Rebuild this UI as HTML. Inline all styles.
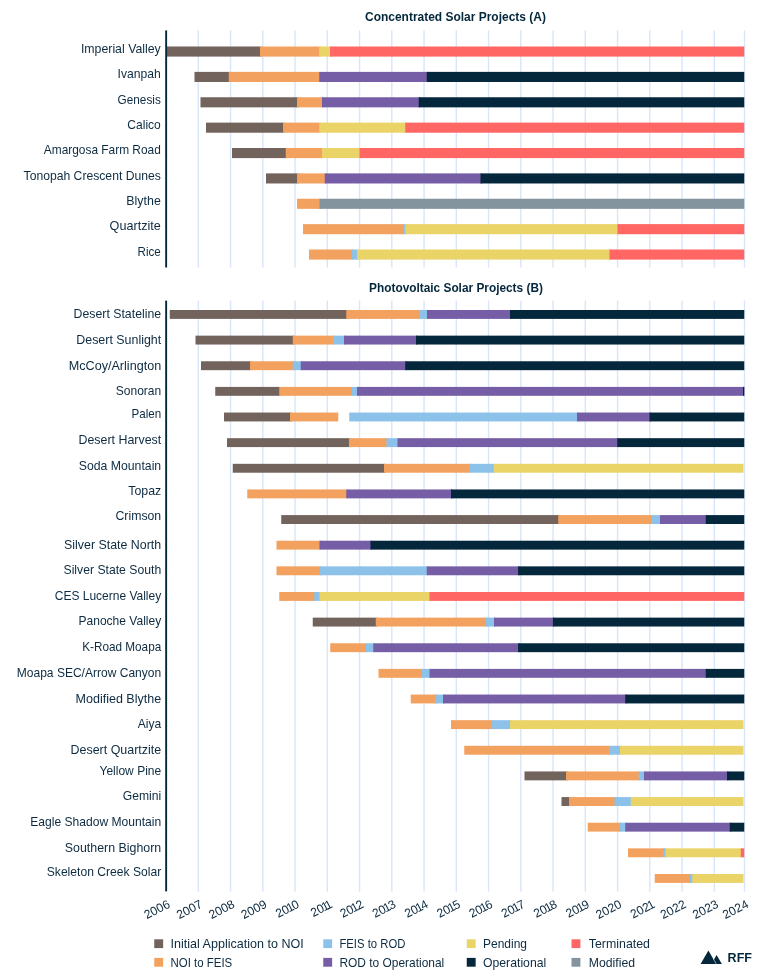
<!DOCTYPE html>
<html lang="en"><head><meta charset="utf-8"><title>Solar Projects Timeline</title>
<style>html,body{margin:0;padding:0;background:#fff}body{width:760px;height:974px;overflow:hidden}svg{display:block}text{font-family:"Liberation Sans",Arial,Helvetica,sans-serif}.l{font-size:12.2px;fill:#0d2b41;text-anchor:end}.t{font-size:12.3px;font-weight:bold;fill:#04273c}.y{font-size:12.2px;fill:#0d2b41;text-anchor:end}.g{font-size:12.2px;fill:#0d2b41}</style></head><body>
<svg width="760" height="974" viewBox="0 0 760 974">
<rect width="760" height="974" fill="#fff"/>
<rect x="197.60" y="30.40" width="1.4" height="237.10" fill="#d8e6f9"/>
<rect x="229.85" y="30.40" width="1.4" height="237.10" fill="#d8e6f9"/>
<rect x="262.10" y="30.40" width="1.4" height="237.10" fill="#d8e6f9"/>
<rect x="294.35" y="30.40" width="1.4" height="237.10" fill="#d8e6f9"/>
<rect x="326.60" y="30.40" width="1.4" height="237.10" fill="#d8e6f9"/>
<rect x="358.85" y="30.40" width="1.4" height="237.10" fill="#d8e6f9"/>
<rect x="391.10" y="30.40" width="1.4" height="237.10" fill="#d8e6f9"/>
<rect x="423.35" y="30.40" width="1.4" height="237.10" fill="#d8e6f9"/>
<rect x="455.60" y="30.40" width="1.4" height="237.10" fill="#d8e6f9"/>
<rect x="487.85" y="30.40" width="1.4" height="237.10" fill="#d8e6f9"/>
<rect x="520.10" y="30.40" width="1.4" height="237.10" fill="#d8e6f9"/>
<rect x="552.35" y="30.40" width="1.4" height="237.10" fill="#d8e6f9"/>
<rect x="584.60" y="30.40" width="1.4" height="237.10" fill="#d8e6f9"/>
<rect x="616.85" y="30.40" width="1.4" height="237.10" fill="#d8e6f9"/>
<rect x="649.10" y="30.40" width="1.4" height="237.10" fill="#d8e6f9"/>
<rect x="681.35" y="30.40" width="1.4" height="237.10" fill="#d8e6f9"/>
<rect x="713.60" y="30.40" width="1.4" height="237.10" fill="#d8e6f9"/>
<rect x="743.80" y="30.40" width="1.4" height="237.10" fill="#d8e6f9"/>
<rect x="197.60" y="300.60" width="1.4" height="591.00" fill="#d8e6f9"/>
<rect x="229.85" y="300.60" width="1.4" height="591.00" fill="#d8e6f9"/>
<rect x="262.10" y="300.60" width="1.4" height="591.00" fill="#d8e6f9"/>
<rect x="294.35" y="300.60" width="1.4" height="591.00" fill="#d8e6f9"/>
<rect x="326.60" y="300.60" width="1.4" height="591.00" fill="#d8e6f9"/>
<rect x="358.85" y="300.60" width="1.4" height="591.00" fill="#d8e6f9"/>
<rect x="391.10" y="300.60" width="1.4" height="591.00" fill="#d8e6f9"/>
<rect x="423.35" y="300.60" width="1.4" height="591.00" fill="#d8e6f9"/>
<rect x="455.60" y="300.60" width="1.4" height="591.00" fill="#d8e6f9"/>
<rect x="487.85" y="300.60" width="1.4" height="591.00" fill="#d8e6f9"/>
<rect x="520.10" y="300.60" width="1.4" height="591.00" fill="#d8e6f9"/>
<rect x="552.35" y="300.60" width="1.4" height="591.00" fill="#d8e6f9"/>
<rect x="584.60" y="300.60" width="1.4" height="591.00" fill="#d8e6f9"/>
<rect x="616.85" y="300.60" width="1.4" height="591.00" fill="#d8e6f9"/>
<rect x="649.10" y="300.60" width="1.4" height="591.00" fill="#d8e6f9"/>
<rect x="681.35" y="300.60" width="1.4" height="591.00" fill="#d8e6f9"/>
<rect x="713.60" y="300.60" width="1.4" height="591.00" fill="#d8e6f9"/>
<rect x="743.80" y="300.60" width="1.4" height="591.00" fill="#d8e6f9"/>
<rect x="167.00" y="46.50" width="94.50" height="10.1" fill="#73635d"/>
<rect x="260.00" y="46.50" width="60.75" height="10.1" fill="#f3a15f"/>
<rect x="319.25" y="46.50" width="12.25" height="10.1" fill="#ead367"/>
<rect x="330.00" y="46.50" width="414.25" height="10.1" fill="#ff6664"/>
<rect x="194.50" y="71.88" width="35.75" height="10.1" fill="#73635d"/>
<rect x="228.75" y="71.88" width="92.00" height="10.1" fill="#f3a15f"/>
<rect x="319.25" y="71.88" width="109.00" height="10.1" fill="#755ea6"/>
<rect x="426.75" y="71.88" width="317.50" height="10.1" fill="#04273c"/>
<rect x="200.50" y="97.25" width="98.00" height="10.1" fill="#73635d"/>
<rect x="297.00" y="97.25" width="26.50" height="10.1" fill="#f3a15f"/>
<rect x="322.00" y="97.25" width="98.25" height="10.1" fill="#755ea6"/>
<rect x="418.75" y="97.25" width="325.50" height="10.1" fill="#04273c"/>
<rect x="206.00" y="122.62" width="78.50" height="10.1" fill="#73635d"/>
<rect x="283.00" y="122.62" width="37.75" height="10.1" fill="#f3a15f"/>
<rect x="319.25" y="122.62" width="87.50" height="10.1" fill="#ead367"/>
<rect x="405.25" y="122.62" width="339.00" height="10.1" fill="#ff6664"/>
<rect x="232.00" y="148.00" width="55.25" height="10.1" fill="#73635d"/>
<rect x="285.75" y="148.00" width="37.75" height="10.1" fill="#f3a15f"/>
<rect x="322.00" y="148.00" width="39.00" height="10.1" fill="#ead367"/>
<rect x="359.50" y="148.00" width="384.75" height="10.1" fill="#ff6664"/>
<rect x="266.00" y="173.38" width="32.50" height="10.1" fill="#73635d"/>
<rect x="297.00" y="173.38" width="29.25" height="10.1" fill="#f3a15f"/>
<rect x="324.75" y="173.38" width="157.25" height="10.1" fill="#755ea6"/>
<rect x="480.50" y="173.38" width="263.75" height="10.1" fill="#04273c"/>
<rect x="297.00" y="198.75" width="24.00" height="10.1" fill="#f3a15f"/>
<rect x="319.50" y="198.75" width="424.75" height="10.1" fill="#84949e"/>
<rect x="303.00" y="224.12" width="101.50" height="10.1" fill="#f3a15f"/>
<rect x="403.00" y="224.12" width="3.75" height="10.1" fill="#8cc2ea"/>
<rect x="405.25" y="224.12" width="213.75" height="10.1" fill="#ead367"/>
<rect x="617.50" y="224.12" width="126.75" height="10.1" fill="#ff6664"/>
<rect x="309.00" y="249.50" width="44.00" height="10.1" fill="#f3a15f"/>
<rect x="351.50" y="249.50" width="7.00" height="10.1" fill="#8cc2ea"/>
<rect x="357.00" y="249.50" width="254.00" height="10.1" fill="#ead367"/>
<rect x="609.50" y="249.50" width="134.75" height="10.1" fill="#ff6664"/>
<rect x="169.75" y="310.00" width="178.00" height="8.9" fill="#73635d"/>
<rect x="346.25" y="310.00" width="74.25" height="8.9" fill="#f3a15f"/>
<rect x="419.00" y="310.00" width="9.50" height="8.9" fill="#8cc2ea"/>
<rect x="427.00" y="310.00" width="84.50" height="8.9" fill="#755ea6"/>
<rect x="510.00" y="310.00" width="234.25" height="8.9" fill="#04273c"/>
<rect x="195.50" y="335.64" width="98.75" height="8.9" fill="#73635d"/>
<rect x="292.75" y="335.64" width="41.75" height="8.9" fill="#f3a15f"/>
<rect x="333.00" y="335.64" width="12.50" height="8.9" fill="#8cc2ea"/>
<rect x="344.00" y="335.64" width="73.50" height="8.9" fill="#755ea6"/>
<rect x="416.00" y="335.64" width="328.25" height="8.9" fill="#04273c"/>
<rect x="201.00" y="361.27" width="50.50" height="8.9" fill="#73635d"/>
<rect x="250.00" y="361.27" width="44.25" height="8.9" fill="#f3a15f"/>
<rect x="292.75" y="361.27" width="9.50" height="8.9" fill="#8cc2ea"/>
<rect x="300.75" y="361.27" width="106.00" height="8.9" fill="#755ea6"/>
<rect x="405.25" y="361.27" width="339.00" height="8.9" fill="#04273c"/>
<rect x="215.25" y="386.91" width="65.50" height="8.9" fill="#73635d"/>
<rect x="279.25" y="386.91" width="74.00" height="8.9" fill="#f3a15f"/>
<rect x="351.75" y="386.91" width="6.75" height="8.9" fill="#8cc2ea"/>
<rect x="357.00" y="386.91" width="387.25" height="8.9" fill="#755ea6"/>
<rect x="743.00" y="386.91" width="1.25" height="8.9" fill="#04273c"/>
<rect x="224.00" y="412.54" width="67.50" height="8.9" fill="#73635d"/>
<rect x="290.00" y="412.54" width="48.25" height="8.9" fill="#f3a15f"/>
<rect x="349.25" y="412.54" width="229.25" height="8.9" fill="#8cc2ea"/>
<rect x="577.00" y="412.54" width="74.00" height="8.9" fill="#755ea6"/>
<rect x="649.50" y="412.54" width="94.75" height="8.9" fill="#04273c"/>
<rect x="227.00" y="438.18" width="123.50" height="8.9" fill="#73635d"/>
<rect x="349.00" y="438.18" width="39.00" height="8.9" fill="#f3a15f"/>
<rect x="386.50" y="438.18" width="12.50" height="8.9" fill="#8cc2ea"/>
<rect x="397.50" y="438.18" width="221.25" height="8.9" fill="#755ea6"/>
<rect x="617.25" y="438.18" width="127.00" height="8.9" fill="#04273c"/>
<rect x="232.75" y="463.82" width="152.75" height="8.9" fill="#73635d"/>
<rect x="384.00" y="463.82" width="87.25" height="8.9" fill="#f3a15f"/>
<rect x="469.75" y="463.82" width="25.50" height="8.9" fill="#8cc2ea"/>
<rect x="493.75" y="463.82" width="249.75" height="8.9" fill="#ead367"/>
<rect x="247.25" y="489.45" width="100.50" height="8.9" fill="#f3a15f"/>
<rect x="346.25" y="489.45" width="106.25" height="8.9" fill="#755ea6"/>
<rect x="451.00" y="489.45" width="293.25" height="8.9" fill="#04273c"/>
<rect x="281.25" y="515.09" width="278.45" height="8.9" fill="#73635d"/>
<rect x="558.20" y="515.09" width="95.30" height="8.9" fill="#f3a15f"/>
<rect x="652.00" y="515.09" width="9.50" height="8.9" fill="#8cc2ea"/>
<rect x="660.00" y="515.09" width="47.25" height="8.9" fill="#755ea6"/>
<rect x="705.75" y="515.09" width="38.50" height="8.9" fill="#04273c"/>
<rect x="276.50" y="540.72" width="44.50" height="8.9" fill="#f3a15f"/>
<rect x="319.50" y="540.72" width="52.50" height="8.9" fill="#755ea6"/>
<rect x="370.50" y="540.72" width="373.75" height="8.9" fill="#04273c"/>
<rect x="276.50" y="566.36" width="44.50" height="8.9" fill="#f3a15f"/>
<rect x="319.50" y="566.36" width="108.75" height="8.9" fill="#8cc2ea"/>
<rect x="426.75" y="566.36" width="92.85" height="8.9" fill="#755ea6"/>
<rect x="518.10" y="566.36" width="226.15" height="8.9" fill="#04273c"/>
<rect x="279.25" y="592.00" width="36.50" height="8.9" fill="#f3a15f"/>
<rect x="314.25" y="592.00" width="6.75" height="8.9" fill="#8cc2ea"/>
<rect x="319.50" y="592.00" width="111.50" height="8.9" fill="#ead367"/>
<rect x="429.50" y="592.00" width="314.75" height="8.9" fill="#ff6664"/>
<rect x="312.75" y="617.63" width="64.50" height="8.9" fill="#73635d"/>
<rect x="375.75" y="617.63" width="111.50" height="8.9" fill="#f3a15f"/>
<rect x="485.75" y="617.63" width="9.75" height="8.9" fill="#8cc2ea"/>
<rect x="494.00" y="617.63" width="60.40" height="8.9" fill="#755ea6"/>
<rect x="552.90" y="617.63" width="191.35" height="8.9" fill="#04273c"/>
<rect x="330.25" y="643.27" width="36.50" height="8.9" fill="#f3a15f"/>
<rect x="365.25" y="643.27" width="9.50" height="8.9" fill="#8cc2ea"/>
<rect x="373.25" y="643.27" width="146.35" height="8.9" fill="#755ea6"/>
<rect x="518.10" y="643.27" width="226.15" height="8.9" fill="#04273c"/>
<rect x="378.50" y="668.90" width="44.50" height="8.9" fill="#f3a15f"/>
<rect x="421.50" y="668.90" width="9.50" height="8.9" fill="#8cc2ea"/>
<rect x="429.50" y="668.90" width="277.75" height="8.9" fill="#755ea6"/>
<rect x="705.75" y="668.90" width="38.50" height="8.9" fill="#04273c"/>
<rect x="410.75" y="694.54" width="25.75" height="8.9" fill="#f3a15f"/>
<rect x="435.00" y="694.54" width="9.50" height="8.9" fill="#8cc2ea"/>
<rect x="443.00" y="694.54" width="183.75" height="8.9" fill="#755ea6"/>
<rect x="625.25" y="694.54" width="119.00" height="8.9" fill="#04273c"/>
<rect x="451.00" y="720.18" width="41.75" height="8.9" fill="#f3a15f"/>
<rect x="491.25" y="720.18" width="20.25" height="8.9" fill="#8cc2ea"/>
<rect x="510.00" y="720.18" width="233.50" height="8.9" fill="#ead367"/>
<rect x="464.25" y="745.81" width="146.50" height="8.9" fill="#f3a15f"/>
<rect x="609.25" y="745.81" width="12.25" height="8.9" fill="#8cc2ea"/>
<rect x="620.00" y="745.81" width="123.50" height="8.9" fill="#ead367"/>
<rect x="524.50" y="771.45" width="43.00" height="8.9" fill="#73635d"/>
<rect x="566.00" y="771.45" width="74.25" height="8.9" fill="#f3a15f"/>
<rect x="638.75" y="771.45" width="6.75" height="8.9" fill="#8cc2ea"/>
<rect x="644.00" y="771.45" width="84.50" height="8.9" fill="#755ea6"/>
<rect x="727.00" y="771.45" width="17.25" height="8.9" fill="#04273c"/>
<rect x="561.50" y="797.08" width="9.00" height="8.9" fill="#73635d"/>
<rect x="569.00" y="797.08" width="47.00" height="8.9" fill="#f3a15f"/>
<rect x="614.50" y="797.08" width="17.75" height="8.9" fill="#8cc2ea"/>
<rect x="630.75" y="797.08" width="112.75" height="8.9" fill="#ead367"/>
<rect x="587.75" y="822.72" width="33.75" height="8.9" fill="#f3a15f"/>
<rect x="620.00" y="822.72" width="6.75" height="8.9" fill="#8cc2ea"/>
<rect x="625.25" y="822.72" width="106.00" height="8.9" fill="#755ea6"/>
<rect x="729.75" y="822.72" width="14.50" height="8.9" fill="#04273c"/>
<rect x="628.00" y="848.36" width="36.50" height="8.9" fill="#f3a15f"/>
<rect x="663.00" y="848.36" width="4.00" height="8.9" fill="#8cc2ea"/>
<rect x="665.50" y="848.36" width="76.75" height="8.9" fill="#ead367"/>
<rect x="740.75" y="848.36" width="3.50" height="8.9" fill="#ff6664"/>
<rect x="654.75" y="873.99" width="36.75" height="8.9" fill="#f3a15f"/>
<rect x="690.00" y="873.99" width="3.75" height="8.9" fill="#8cc2ea"/>
<rect x="692.25" y="873.99" width="51.25" height="8.9" fill="#ead367"/>
<rect x="165.2" y="30.4" width="1.9" height="237.1" fill="#04273c"/>
<rect x="165.2" y="300.6" width="1.9" height="590.8" fill="#04273c"/>
<text class="l" x="160.8" y="53.15" textLength="79.90" lengthAdjust="spacingAndGlyphs">Imperial Valley</text>
<text class="l" x="160.8" y="78.30" textLength="43.20" lengthAdjust="spacingAndGlyphs">Ivanpah</text>
<text class="l" x="160.8" y="104.00" textLength="43.20" lengthAdjust="spacingAndGlyphs">Genesis</text>
<text class="l" x="160.8" y="129.20" textLength="33.45" lengthAdjust="spacingAndGlyphs">Calico</text>
<text class="l" x="160.8" y="154.30" textLength="116.95" lengthAdjust="spacingAndGlyphs">Amargosa Farm Road</text>
<text class="l" x="160.8" y="180.10" textLength="137.20" lengthAdjust="spacingAndGlyphs">Tonopah Crescent Dunes</text>
<text class="l" x="160.8" y="205.20" textLength="34.45" lengthAdjust="spacingAndGlyphs">Blythe</text>
<text class="l" x="160.8" y="230.20" textLength="51.20" lengthAdjust="spacingAndGlyphs">Quartzite</text>
<text class="l" x="160.8" y="256.30" textLength="23.20" lengthAdjust="spacingAndGlyphs">Rice</text>
<text class="l" x="161.2" y="318.25" textLength="87.70" lengthAdjust="spacingAndGlyphs">Desert Stateline</text>
<text class="l" x="161.2" y="344.00" textLength="84.95" lengthAdjust="spacingAndGlyphs">Desert Sunlight</text>
<text class="l" x="161.2" y="369.75" textLength="92.45" lengthAdjust="spacingAndGlyphs">McCoy/Arlington</text>
<text class="l" x="161.2" y="394.75" textLength="45.45" lengthAdjust="spacingAndGlyphs">Sonoran</text>
<text class="l" x="161.2" y="418.25" textLength="29.70" lengthAdjust="spacingAndGlyphs">Palen</text>
<text class="l" x="161.2" y="444.25" textLength="82.70" lengthAdjust="spacingAndGlyphs">Desert Harvest</text>
<text class="l" x="161.2" y="470.25" textLength="82.45" lengthAdjust="spacingAndGlyphs">Soda Mountain</text>
<text class="l" x="161.2" y="495.00" textLength="32.95" lengthAdjust="spacingAndGlyphs">Topaz</text>
<text class="l" x="161.2" y="519.90" textLength="45.70" lengthAdjust="spacingAndGlyphs">Crimson</text>
<text class="l" x="161.2" y="548.75" textLength="97.20" lengthAdjust="spacingAndGlyphs">Silver State North</text>
<text class="l" x="161.2" y="574.00" textLength="97.70" lengthAdjust="spacingAndGlyphs">Silver State South</text>
<text class="l" x="161.2" y="599.75" textLength="106.45" lengthAdjust="spacingAndGlyphs">CES Lucerne Valley</text>
<text class="l" x="161.2" y="625.25" textLength="82.70" lengthAdjust="spacingAndGlyphs">Panoche Valley</text>
<text class="l" x="161.2" y="650.75" textLength="78.95" lengthAdjust="spacingAndGlyphs">K-Road Moapa</text>
<text class="l" x="161.2" y="676.75" textLength="144.45" lengthAdjust="spacingAndGlyphs">Moapa SEC/Arrow Canyon</text>
<text class="l" x="161.2" y="702.50" textLength="85.70" lengthAdjust="spacingAndGlyphs">Modified Blythe</text>
<text class="l" x="161.2" y="727.50" textLength="23.45" lengthAdjust="spacingAndGlyphs">Aiya</text>
<text class="l" x="161.2" y="753.50" textLength="90.70" lengthAdjust="spacingAndGlyphs">Desert Quartzite</text>
<text class="l" x="161.2" y="774.50" textLength="61.70" lengthAdjust="spacingAndGlyphs">Yellow Pine</text>
<text class="l" x="161.2" y="800.00" textLength="38.45" lengthAdjust="spacingAndGlyphs">Gemini</text>
<text class="l" x="161.2" y="825.75" textLength="130.95" lengthAdjust="spacingAndGlyphs">Eagle Shadow Mountain</text>
<text class="l" x="161.2" y="852.00" textLength="96.45" lengthAdjust="spacingAndGlyphs">Southern Bighorn</text>
<text class="l" x="161.2" y="875.75" textLength="114.45" lengthAdjust="spacingAndGlyphs">Skeleton Creek Solar</text>
<text class="t" x="365.0" y="21.1" textLength="180.9" lengthAdjust="spacingAndGlyphs">Concentrated Solar Projects (A)</text>
<text class="t" x="369.1" y="292.1" textLength="173.8" lengthAdjust="spacingAndGlyphs">Photovoltaic Solar Projects (B)</text>
<text class="y" transform="translate(170.90 906.80) rotate(-27.5)" x="0" y="0">2006</text>
<text class="y" transform="translate(203.20 906.80) rotate(-27.5)" x="0" y="0">2007</text>
<text class="y" transform="translate(235.45 906.80) rotate(-27.5)" x="0" y="0">2008</text>
<text class="y" transform="translate(267.70 906.80) rotate(-27.5)" x="0" y="0">2009</text>
<text class="y" transform="translate(299.95 906.80) rotate(-27.5)" x="0" y="0" dx="0.0 0.0 -1.4 -1.3">2010</text>
<text class="y" transform="translate(333.20 906.80) rotate(-27.5)" x="0" y="0" dx="0.0 0.0 -1.4 -2.3">2011</text>
<text class="y" transform="translate(364.45 906.80) rotate(-27.5)" x="0" y="0" dx="0.0 0.0 -1.4 -1.3">2012</text>
<text class="y" transform="translate(396.70 906.80) rotate(-27.5)" x="0" y="0" dx="0.0 0.0 -1.4 -1.3">2013</text>
<text class="y" transform="translate(428.95 906.80) rotate(-27.5)" x="0" y="0" dx="0.0 0.0 -1.4 -1.3">2014</text>
<text class="y" transform="translate(461.20 906.80) rotate(-27.5)" x="0" y="0" dx="0.0 0.0 -1.4 -1.3">2015</text>
<text class="y" transform="translate(493.45 906.80) rotate(-27.5)" x="0" y="0" dx="0.0 0.0 -1.4 -1.3">2016</text>
<text class="y" transform="translate(525.70 906.80) rotate(-27.5)" x="0" y="0" dx="0.0 0.0 -1.4 -1.3">2017</text>
<text class="y" transform="translate(557.95 906.80) rotate(-27.5)" x="0" y="0" dx="0.0 0.0 -1.4 -1.3">2018</text>
<text class="y" transform="translate(590.20 906.80) rotate(-27.5)" x="0" y="0" dx="0.0 0.0 -1.4 -1.3">2019</text>
<text class="y" transform="translate(622.45 906.80) rotate(-27.5)" x="0" y="0">2020</text>
<text class="y" transform="translate(655.70 906.80) rotate(-27.5)" x="0" y="0" dx="0.0 0.0 0.0 -1.4">2021</text>
<text class="y" transform="translate(686.95 906.80) rotate(-27.5)" x="0" y="0">2022</text>
<text class="y" transform="translate(719.20 906.80) rotate(-27.5)" x="0" y="0">2023</text>
<text class="y" transform="translate(749.40 906.80) rotate(-27.5)" x="0" y="0">2024</text>
<rect x="154.25" y="939.3" width="8.9" height="8.8" fill="#73635d"/>
<rect x="154.25" y="957.9" width="8.9" height="8.8" fill="#f3a15f"/>
<text class="g" x="170.50" y="947.9" textLength="133.2" lengthAdjust="spacingAndGlyphs">Initial Application to NOI</text>
<text class="g" x="170.50" y="966.5" textLength="61.75" lengthAdjust="spacingAndGlyphs">NOI to FEIS</text>
<rect x="323.25" y="939.3" width="8.9" height="8.8" fill="#8cc2ea"/>
<rect x="323.25" y="957.9" width="8.9" height="8.8" fill="#755ea6"/>
<text class="g" x="339.40" y="947.9" textLength="66" lengthAdjust="spacingAndGlyphs">FEIS to ROD</text>
<text class="g" x="339.40" y="966.5" textLength="104.8" lengthAdjust="spacingAndGlyphs">ROD to Operational</text>
<rect x="466.75" y="939.3" width="8.9" height="8.8" fill="#ead367"/>
<rect x="466.75" y="957.9" width="8.9" height="8.8" fill="#04273c"/>
<text class="g" x="483.00" y="947.9" textLength="44" lengthAdjust="spacingAndGlyphs">Pending</text>
<text class="g" x="483.00" y="966.5" textLength="63.25" lengthAdjust="spacingAndGlyphs">Operational</text>
<rect x="571.50" y="939.3" width="8.9" height="8.8" fill="#ff6664"/>
<rect x="571.50" y="957.9" width="8.9" height="8.8" fill="#84949e"/>
<text class="g" x="588.75" y="947.9" textLength="61.25" lengthAdjust="spacingAndGlyphs">Terminated</text>
<text class="g" x="588.75" y="966.5" textLength="46.25" lengthAdjust="spacingAndGlyphs">Modified</text>
<path d="M711.3 964.1 L716.6 955 L721.9 964.1 Z" fill="#04273c"/>
<path d="M700.6 964.1 L708.4 950.4 L716.2 964.1 Z" fill="#04273c"/>
<path d="M713.5 959 L716.6 964.5" stroke="#fff" stroke-width="0.55" fill="none"/>
<text x="727.6" y="962.2" style="font-size:13.6px;font-weight:bold;fill:#04273c" textLength="24.4" lengthAdjust="spacingAndGlyphs">RFF</text>
</svg></body></html>
